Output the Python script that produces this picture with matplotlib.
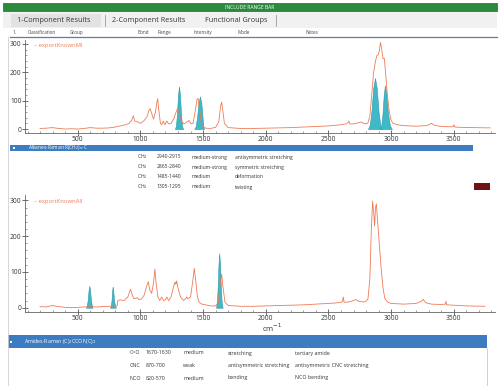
import matplotlib
matplotlib.use("Agg")
import matplotlib.pyplot as plt
from matplotlib.patches import Rectangle
from matplotlib.ticker import MultipleLocator

plt.rcParams["font.family"] = ["Open Sans", "DejaVu Sans"]

# ---- data ----
# top panel: alkane reference spectrum (cm-1, intensity)
alk_wn = [200, 250, 300, 330, 400, 450, 500, 550, 600, 650, 700, 750, 800, 850, 880,
          910, 930, 944, 955, 980, 1000, 1030, 1055, 1070, 1077, 1090, 1105, 1120, 1132,
          1138, 1145, 1160, 1170, 1183, 1195, 1210, 1225, 1245, 1265, 1285, 1297, 1310,
          1330, 1350, 1370, 1388, 1405, 1420, 1440, 1452, 1460, 1472, 1485, 1500, 1520,
          1560, 1600, 1625, 1640, 1648, 1656, 1670, 1700, 1800, 1900, 2000, 2100, 2200,
          2300, 2400, 2500, 2550, 2600, 2640, 2655, 2663, 2670, 2700, 2740, 2759, 2780,
          2800, 2815, 2830, 2845, 2860, 2875, 2887, 2897, 2905, 2915, 2925, 2935, 2945,
          2955, 2970, 2985, 3000, 3015, 3050, 3100, 3200, 3280, 3300, 3323, 3340, 3380,
          3450, 3495, 3501, 3508, 3550, 3650, 3790]
alk_int = [2, 3, 5, 3, 0, 1, 0, 2, 5, 3, 3, 4, 7, 12, 15,
           20, 30, 47, 28, 25, 20, 30, 45, 68, 72, 55, 35, 60, 95,
           107, 75, 20, 15, 28, 15, 28, 18, 20, 35, 60, 72, 55,
           25, 18, 25, 30, 18, 20, 70, 105, 108, 70, 25, 8, 3,
           2, 6, 25, 80, 95, 70, 20, 5, 2, 2, 3, 4, 5,
           7, 9, 11, 13, 15, 18, 22, 28, 18, 18, 22, 25, 20,
           18, 22, 45, 120, 200, 240, 260, 262, 275, 305, 280, 248, 250,
           200, 120, 60, 30, 20, 15, 12, 10, 12, 15, 20, 14, 10,
           8, 8, 15, 7, 6, 5, 4]
alk_band_x = [[1276, 1284, 1292, 1300, 1308, 1316, 1324, 1332, 1340],
              [1430, 1441, 1452, 1464, 1475, 1486, 1496, 1502, 1507],
              [2815, 2829, 2843, 2857, 2871, 2885, 2899, 2913, 2926],
              [2911, 2921, 2931, 2941, 2951, 2961, 2975, 2990, 3006]]
alk_band_y = [[0, 12, 52, 120, 150, 120, 52, 12, 0],
              [0, 9, 40, 92, 115, 92, 40, 9, 0],
              [0, 14, 63, 144, 180, 144, 63, 14, 0],
              [0, 12, 54, 123, 154, 123, 54, 12, 0]]

# bottom panel: amide reference spectrum
amd_wn = [200, 250, 280, 300, 330, 400, 450, 500, 550, 600, 650, 700, 750, 800, 815,
          820, 840, 870, 900, 922, 935, 950, 975, 990, 1010, 1030, 1050, 1063, 1075,
          1090, 1105, 1116, 1125, 1140, 1155, 1170, 1185, 1200, 1210, 1225, 1245, 1265,
          1276, 1283, 1289, 1300, 1320, 1345, 1360, 1369, 1380, 1400, 1418, 1430, 1440,
          1455, 1470, 1490, 1520, 1560, 1600, 1620, 1637, 1648, 1658, 1675, 1700, 1800,
          1900, 2000, 2100, 2200, 2300, 2400, 2500, 2550, 2600, 2612, 2618, 2625, 2660,
          2700, 2719, 2740, 2780, 2800, 2815, 2830, 2842, 2852, 2862, 2868, 2875, 2882,
          2890, 2905, 2920, 2935, 2950, 2975, 3000, 3100, 3200, 3240, 3256, 3275, 3320,
          3400, 3432, 3437, 3442, 3500, 3600, 3748]
amd_int = [3, 2, 5, 6, 4, 1, 0, 1, 2, 3, 2, 3, 4, 5, 5,
           20, 22, 20, 30, 52, 35, 25, 28, 22, 25, 35, 60, 73, 50,
           40, 70, 108, 70, 30, 20, 30, 20, 22, 30, 20, 30, 60,
           72, 65, 75, 55, 30, 20, 25, 30, 25, 30, 75, 110, 80,
           30, 15, 10, 8, 5, 5, 15, 70, 94, 60, 15, 6, 4,
           4, 5, 6, 7, 8, 10, 12, 13, 15, 18, 30, 15, 16,
           20, 23, 18, 16, 18, 25, 80, 220, 298, 260, 228, 280, 290,
           250, 180, 110, 55, 25, 15, 12, 10, 12, 18, 23, 14, 10,
           9, 10, 18, 8, 7, 5, 4]
amd_band_x = [[566, 573, 580, 587, 593, 599, 606, 613, 619],
              [758, 764, 770, 775, 779, 784, 790, 798, 805],
              [1603, 1610, 1616, 1623, 1629, 1635, 1642, 1649, 1656]]
amd_band_y = [[0, 5, 21, 49, 61, 49, 21, 5, 0],
              [0, 5, 20, 47, 59, 47, 20, 5, 0],
              [0, 12, 53, 122, 152, 122, 53, 12, 0]]

header_cols = ["1.", "Classification", "Group", "Bond", "Range", "Intensity", "Mode", "Notes"]
tabs = ["1-Component Results", "2-Component Results", "Functional Groups"]

alk_title = "Alkanes-Raman R(CH$_2$)$_n$-C"
alk_bonds = ["CH$_2$", "CH$_2$", "CH$_2$", "CH$_2$"]
alk_ranges = ["2940-2915", "2865-2840", "1485-1440", "1305-1295"]
alk_intens = ["medium-strong", "medium-strong", "medium", "medium"]
alk_modes = ["antisymmetric stretching", "symmetric stretching", "deformation", "twisting"]

amd_title = "Amides-Raman (C)$_2$CCON(C)$_2$"
amd_bonds = ["C=O", "CNC", "NCO"]
amd_ranges = ["1670-1630", "870-700", "620-570"]
amd_intens = ["medium", "weak", "medium"]
amd_modes = ["stretching", "antisymmetric stretching", "bending"]
amd_notes = ["tertiary amide", "antisymmetric CNC stretching", "NCO bending"]

RED = "#ef7b55"
CYAN = "#3fb8c8"
CYAN_EDGE = "#2a98a8"
BLUE = "#3d7cc0"
W, H = 500, 386

fig = plt.figure(figsize=(W / 100, H / 100), dpi=100)
fig.patch.set_facecolor("white")


def box(l, t, r, b):
    return [l / W, 1 - b / H, (r - l) / W, (b - t) / H]


# full-figure canvas in pixel coords for the UI parts
ui = fig.add_axes([0, 0, 1, 1])
ui.set_xlim(0, W)
ui.set_ylim(H, 0)
ui.axis("off")

# green range bar
ui.add_patch(Rectangle((3, 3), 494, 8, fc="#2b8a3e", ec="#1d6b2c", lw=0.5))
ui.text(250, 7.2, "INCLUDE RANGE BAR", color="white", fontsize=3.6, ha="center", va="center")

# tab strip
ui.add_patch(Rectangle((3, 12), 494, 16, fc="#f1f1f1", ec="none"))
ui.add_patch(Rectangle((11, 14), 90, 13, fc="#e2e2e2", ec="none"))
for x, t in zip([17, 112, 205], tabs):
    ui.text(x, 20.5, t, fontsize=5.2, color="#333333", va="center")
for x in [105, 276]:
    ui.plot([x, x], [15, 26], color="#9a9a9a", lw=0.6)

# column header
for x, t in zip([13, 28, 70, 138, 158, 193, 238, 305], header_cols):
    ui.text(x, 32.5, t, fontsize=3.3, color="#444444", va="center")
ui.plot([10, 497], [36.5, 36.5], color="#5f7f9f", lw=0.9)
ui.plot([8, 8], [37, 386], color="#d0d0d0", lw=0.6)

# alkane group block
ui.add_patch(Rectangle((10, 144.5), 463, 6.5, fc=BLUE, ec="none", zorder=5))
ui.add_patch(Rectangle((12.5, 146.5), 2, 2.5, fc="white", ec="none", zorder=6))
ui.text(28, 147.9, alk_title, color="white", fontsize=3.5, va="center", zorder=6)
for i in range(len(alk_bonds)):
    y = 157 + 10 * i
    ui.text(137, y, alk_bonds[i], fontsize=3.6, color="#333333", va="center")
    ui.text(157, y, alk_ranges[i], fontsize=3.6, color="#333333", va="center")
    ui.text(192, y, alk_intens[i], fontsize=3.6, color="#333333", va="center")
    ui.text(235, y, alk_modes[i], fontsize=3.6, color="#333333", va="center")
ui.add_patch(Rectangle((474, 183), 16, 7, fc="#6e1212", ec="none"))

# amide group block
ui.text(262, 328, "cm$^{-1}$", fontsize=5.5, color="#333333", va="center")
ui.add_patch(Rectangle((8, 335), 479, 13, fc=BLUE, ec="none"))
ui.add_patch(Rectangle((10, 340.5), 2, 2.5, fc="white", ec="none"))
ui.text(24, 341.8, amd_title, color="white", fontsize=3.8, va="center")
for i in range(len(amd_bonds)):
    y = 353 + 12.5 * i
    ui.text(130, y, amd_bonds[i], fontsize=3.8, color="#333333", va="center")
    ui.text(146, y, amd_ranges[i], fontsize=3.8, color="#333333", va="center")
    ui.text(183, y, amd_intens[i], fontsize=3.8, color="#333333", va="center")
    ui.text(228, y, amd_modes[i], fontsize=3.8, color="#333333", va="center")
    ui.text(295, y, amd_notes[i], fontsize=3.8, color="#333333", va="center")
ui.plot([487, 487], [348, 386], color="#c8c8c8", lw=0.6)


def spectrum_panel(rect, wn, inten, bx_list, by_list, ylim, name):
    ax = fig.add_axes(box(*rect))
    ax.patch.set_alpha(0)
    for bx, by in zip(bx_list, by_list):
        ax.fill_between(bx, 0, by, color=CYAN, edgecolor=CYAN_EDGE, lw=0.4, zorder=2)
    ax.plot(wn, inten, color=RED, lw=0.6, zorder=3)
    ax.set_xlim(80, 3828)
    ax.set_ylim(*ylim)
    ax.xaxis.set_minor_locator(MultipleLocator(100))
    ax.yaxis.set_major_locator(MultipleLocator(100))
    ax.yaxis.set_minor_locator(MultipleLocator(20))
    ax.set_xticks([500, 1000, 1500, 2000, 2500, 3000, 3500])
    ax.tick_params(which="major", direction="inout", length=4, width=0.6,
                   labelsize=4.8, colors="#555555", labelcolor="#333333", pad=0.5)
    ax.tick_params(which="minor", direction="in", length=1.6, width=0.5, colors="#777777")
    for s in ["top", "right"]:
        ax.spines[s].set_visible(False)
    for s in ["left", "bottom"]:
        ax.spines[s].set_color("#666666")
        ax.spines[s].set_linewidth(0.6)
    ax.text(0.02, 0.97, "– " + name, transform=ax.transAxes, fontsize=4.2,
            color=RED, va="top")
    return ax


spectrum_panel((25, 40, 495, 133), alk_wn, alk_int, alk_band_x, alk_band_y,
               (-14, 314), "exportKnownMl")
spectrum_panel((25, 195, 495, 312), amd_wn, amd_int, amd_band_x, amd_band_y,
               (-12, 315), "exportKnownAll")

fig.savefig("out.png", dpi=100)
